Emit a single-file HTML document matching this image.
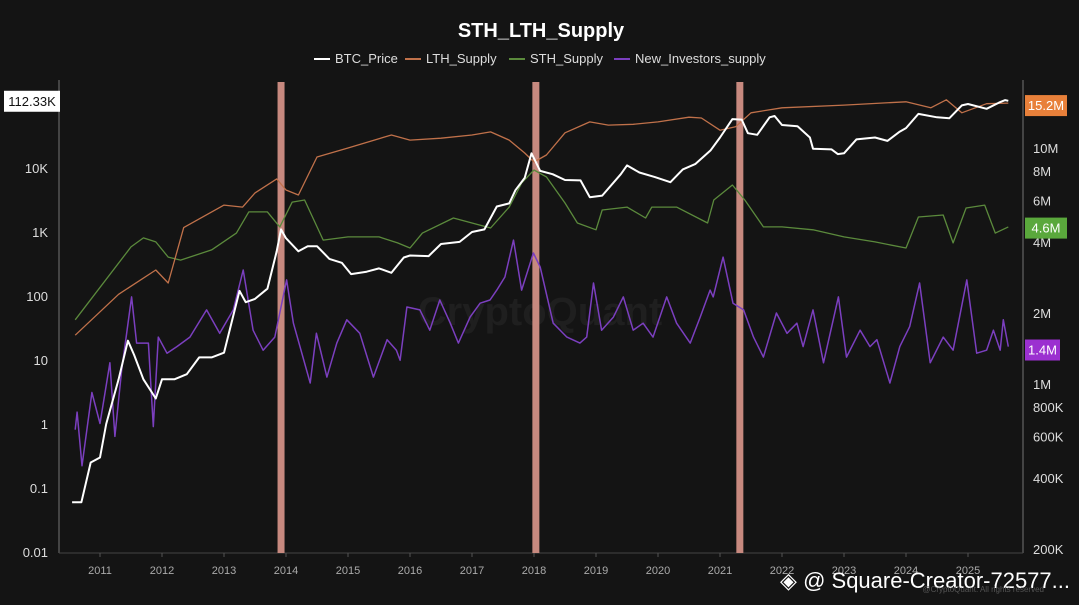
<!DOCTYPE html>
<html><head><meta charset="utf-8">
<style>
html,body{margin:0;padding:0;background:#141414;width:1079px;height:605px;overflow:hidden;font-family:"Liberation Sans",sans-serif;}
svg{display:block}
</style></head>
<body>
<svg id="chart" width="1079" height="605">
<rect x="0" y="0" width="1079" height="605" fill="#141414"/>
<text x="541" y="37" fill="#ffffff" font-size="20" font-weight="bold" text-anchor="middle">STH_LTH_Supply</text>
<g font-size="13" fill="#dddddd">
  <g><line x1="314" y1="59" x2="330" y2="59" stroke="#fff" stroke-width="2"/><text x="335" y="63">BTC_Price</text></g>
  <g><line x1="405" y1="59" x2="421" y2="59" stroke="#c0714a" stroke-width="2"/><text x="426" y="63">LTH_Supply</text></g>
  <g><line x1="509" y1="59" x2="525" y2="59" stroke="#5b8a3c" stroke-width="2"/><text x="530" y="63">STH_Supply</text></g>
  <g><line x1="614" y1="59" x2="630" y2="59" stroke="#7b3fbf" stroke-width="2"/><text x="635" y="63">New_Investors_supply</text></g>
</g>
<text x="540" y="325" fill="#1f1f1f" font-size="40" font-weight="bold" text-anchor="middle">CryptoQuant</text>
<line x1="59" y1="80" x2="59" y2="553" stroke="#555" stroke-width="1.5"/>
<line x1="1023" y1="80" x2="1023" y2="553" stroke="#555" stroke-width="1.5"/>
<line x1="59" y1="553" x2="1023" y2="553" stroke="#444" stroke-width="1"/>
<g id="bars"></g>
<g id="series"></g>
<g id="axes"></g>
<text x="1070" y="588" fill="#ffffff" font-size="22" text-anchor="end">◈ @ Square-Creator-72577...</text>
<text x="1044" y="592" fill="#555" font-size="8" text-anchor="end">@CryptoQuant. All rights reserved</text>
</svg>
<script>
const btcDates=[2010.55,2010.7,2010.85,2011.0,2011.1,2011.3,2011.45,2011.55,2011.7,2011.9,2012.0,2012.2,2012.4,2012.6,2012.8,2013.0,2013.25,2013.35,2013.5,2013.7,2013.85,2013.92,2014.0,2014.2,2014.35,2014.5,2014.7,2014.9,2015.05,2015.3,2015.5,2015.7,2015.9,2016.0,2016.3,2016.5,2016.8,2017.0,2017.2,2017.4,2017.6,2017.7,2017.85,2017.96,2018.1,2018.3,2018.5,2018.75,2018.9,2019.1,2019.4,2019.5,2019.7,2019.95,2020.2,2020.4,2020.6,2020.85,2021.0,2021.2,2021.35,2021.45,2021.6,2021.8,2021.88,2022.0,2022.25,2022.45,2022.5,2022.8,2022.9,2023.0,2023.2,2023.5,2023.7,2023.9,2024.0,2024.2,2024.5,2024.7,2024.9,2025.0,2025.3,2025.5,2025.6,2025.65];
const btcPrice=[0.06,0.06,0.25,0.3,1,5,20,12,5,2.5,5,5,6,11,11,13,120,80,90,130,500,1100,800,500,600,600,380,330,220,240,270,230,400,430,420,650,700,1000,1100,2500,2800,4500,7000,17000,9000,8000,6500,6400,3500,3700,8000,11000,8500,7200,6000,9500,11500,19000,30000,58000,57000,35000,33000,62000,65000,47000,45000,30000,20000,19500,16500,17000,28000,30000,26500,37000,42000,70000,62000,60000,95000,100000,84000,105000,115000,112330];
const lthDates=[2010.6,2011.3,2011.9,2012.1,2012.35,2013.0,2013.3,2013.5,2013.85,2014.0,2014.2,2014.5,2015.0,2015.7,2016.0,2016.5,2017.0,2017.3,2017.6,2017.85,2018.0,2018.2,2018.5,2018.9,2019.2,2019.6,2020.0,2020.5,2020.7,2021.0,2021.25,2021.5,2022.0,2023.0,2024.0,2024.4,2024.65,2024.9,2025.3,2025.65];
const lthSupply=[1.61,2.4,3.04,2.68,4.6,5.73,5.62,6.45,7.4,6.64,6.32,9.16,10.0,11.35,10.8,11.0,11.35,11.7,10.8,9.52,8.72,9.34,11.6,12.9,12.5,12.6,12.9,13.5,13.4,11.9,12.3,14.1,14.8,15.2,15.7,14.8,16.0,14.1,15.4,15.5];
const sthDates=[2010.6,2011.5,2011.7,2011.9,2012.1,2012.3,2012.8,2013.2,2013.4,2013.7,2013.9,2014.1,2014.3,2014.6,2015.0,2015.5,2015.8,2016.0,2016.2,2016.7,2017.0,2017.3,2017.6,2017.8,2018.0,2018.2,2018.5,2018.7,2019.0,2019.1,2019.5,2019.8,2019.9,2020.3,2020.8,2020.9,2021.2,2021.4,2021.7,2022.0,2022.5,2023.0,2023.5,2024.0,2024.2,2024.6,2024.76,2024.97,2025.27,2025.44,2025.65];
const sthSupply=[1.87,3.81,4.16,4.0,3.45,3.35,3.7,4.36,5.36,5.36,4.63,5.9,6.02,4.07,4.2,4.2,3.96,3.77,4.36,5.05,4.81,4.58,5.62,7.1,8.07,7.54,5.85,4.81,4.5,5.46,5.62,5.05,5.62,5.62,4.81,6.02,6.97,6.02,4.63,4.63,4.5,4.2,4.0,3.77,5.1,5.2,3.96,5.57,5.73,4.36,4.63];
const niDates=[2010.6,2010.63,2010.71,2010.87,2011.0,2011.16,2011.24,2011.35,2011.51,2011.59,2011.78,2011.86,2011.94,2012.08,2012.24,2012.45,2012.72,2012.93,2013.15,2013.31,2013.47,2013.63,2013.82,2014.01,2014.12,2014.39,2014.49,2014.66,2014.82,2014.98,2015.19,2015.41,2015.63,2015.78,2015.84,2015.95,2016.16,2016.32,2016.48,2016.65,2016.78,2016.97,2017.13,2017.29,2017.4,2017.53,2017.67,2017.8,2017.99,2018.1,2018.31,2018.53,2018.74,2018.85,2018.96,2019.09,2019.28,2019.44,2019.6,2019.76,2019.92,2020.14,2020.3,2020.52,2020.68,2020.84,2020.89,2021.05,2021.21,2021.38,2021.54,2021.7,2021.91,2022.08,2022.24,2022.34,2022.5,2022.67,2022.91,2023.04,2023.26,2023.42,2023.53,2023.74,2023.9,2024.06,2024.22,2024.39,2024.6,2024.76,2024.98,2025.14,2025.3,2025.41,2025.52,2025.57,2025.65];
const niSupply=[0.64,0.76,0.45,0.92,0.68,1.23,0.60,1.15,2.34,1.49,1.49,0.66,1.58,1.35,1.44,1.58,2.06,1.64,2.06,3.04,1.69,1.39,1.58,2.76,1.81,1.01,1.64,1.07,1.49,1.87,1.64,1.07,1.54,1.39,1.26,2.12,2.06,1.69,2.27,1.81,1.49,1.92,2.2,2.27,2.5,2.84,4.07,2.5,3.59,3.13,1.81,1.58,1.49,1.58,2.68,1.69,1.92,2.34,1.69,1.81,1.58,2.34,1.81,1.49,1.92,2.5,2.34,3.45,2.2,2.06,1.58,1.3,2.0,1.64,1.81,1.44,2.06,1.23,2.34,1.3,1.69,1.44,1.54,1.01,1.44,1.75,2.68,1.23,1.58,1.39,2.76,1.35,1.39,1.69,1.39,1.87,1.44];
const cycleBarDates=[2013.92,2018.03,2021.32];
const yearTicks=[2011,2012,2013,2014,2015,2016,2017,2018,2019,2020,2021,2022,2023,2024,2025];
const leftTicks=[10000,1000,100,10,1,0.1,0.01];
const leftTickLabels=["10K","1K","100","10","1","0.1","0.01"];
const rightTicks=[10,8,6,4,2,1,0.8,0.6,0.4,0.2];
const rightTickLabels=["10M","8M","6M","4M","2M","1M","800K","600K","400K","200K"];

const NS="http://www.w3.org/2000/svg";
function xScale(yr){return 100+(yr-2011)*62;}
function yLeft(v){return 552-(Math.log10(v)+2)*64;}
function yRight(m){return 384-Math.log10(m)*236;}
function mk(tag,attrs,parent){const e=document.createElementNS(NS,tag);for(const k in attrs)e.setAttribute(k,attrs[k]);parent.appendChild(e);return e;}

const barsG=document.getElementById('bars');
cycleBarDates.forEach((d,i)=>{
  const r=mk('rect',{x:xScale(d)-3.5,y:82,width:7,height:471,fill:'#c7897f'},barsG);
  
  
});

const seriesG=document.getElementById('series');
function drawLine(dates,vals,yf,color,w,name){
  const pts=dates.map((d,i)=>xScale(d).toFixed(1)+','+yf(vals[i]).toFixed(1)).join(' ');
  const p=mk('polyline',{points:pts,fill:'none',stroke:color,'stroke-width':w,'stroke-linejoin':'round'},seriesG);
  
  
}
drawLine(niDates,niSupply,yRight,'#7b3fbf',1.5,'new-investors-supply-line');
drawLine(sthDates,sthSupply,yRight,'#5b8a3c',1.3,'sth-supply-line');
drawLine(lthDates,lthSupply,yRight,'#c0714a',1.3,'lth-supply-line');
drawLine(btcDates,btcPrice,yLeft,'#ffffff',2,'btc-price-line');

const axesG=document.getElementById('axes');
yearTicks.forEach(y=>{
  const t=mk('line',{x1:xScale(y),y1:553,x2:xScale(y),y2:557,stroke:'#555'},axesG);
  
  
  const l=mk('text',{x:xScale(y),y:574,fill:'#aaaaaa','font-size':11,'text-anchor':'middle'},axesG);
  l.textContent=y;
  
  
});
leftTicks.forEach((v,i)=>{
  const l=mk('text',{x:48,y:yLeft(v)+5,fill:'#dddddd','font-size':13,'text-anchor':'end'},axesG);
  l.textContent=leftTickLabels[i];
  
  
});
rightTicks.forEach((v,i)=>{
  const l=mk('text',{x:1033,y:yRight(v)+5,fill:'#dddddd','font-size':13},axesG);
  l.textContent=rightTickLabels[i];
  
  
});
function badge(x,y,w,bg,fg,txt,name,anchor){
  const g=mk('g',{},axesG);
  
  
  mk('rect',{x:x,y:y-10,width:w,height:21,fill:bg},g);
  const t=mk('text',{x:x+w/2,y:y+5,fill:fg,'font-size':13,'text-anchor':'middle'},g);
  t.textContent=txt;
}
badge(4,yLeft(btcPrice[btcPrice.length-1]),56,'#ffffff','#111111','112.33K','btc-last-value-badge');
badge(1025,yRight(15.2),42,'#e8803a','#ffffff','15.2M','lth-last-value-badge');
badge(1025,yRight(4.6),42,'#5aa83c','#ffffff','4.6M','sth-last-value-badge');
badge(1025,yRight(1.4),35,'#9b30d0','#ffffff','1.4M','ni-last-value-badge');
</script>
</body></html>
